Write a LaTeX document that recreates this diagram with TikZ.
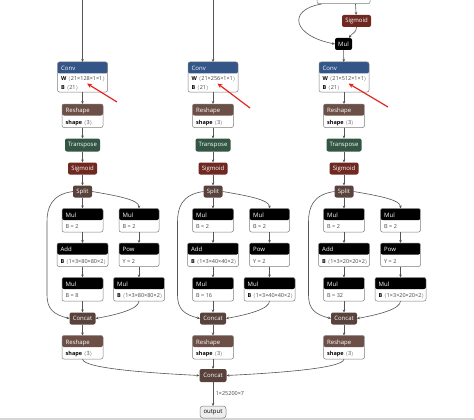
\documentclass[tikz,border=0pt]{standalone}
\usepackage{fontspec}
\setmainfont{Open Sans}
\usetikzlibrary{arrows.meta,positioning}

\definecolor{convblue}{RGB}{51,85,136}
\definecolor{shapebrown}{RGB}{108,79,71}
\definecolor{transgreen}{RGB}{51,85,68}
\definecolor{sigred}{RGB}{112,41,33}
\definecolor{tensorbrown}{RGB}{89,66,59}
\definecolor{edgegray}{RGB}{85,85,85}
\definecolor{boxgray}{RGB}{125,125,125}
\definecolor{valgray}{RGB}{70,70,70}
\definecolor{outgray}{RGB}{238,238,238}
\definecolor{bandgray}{RGB}{214,214,214}
\definecolor{annored}{RGB}{228,38,32}

\begin{document}
\begin{tikzpicture}[
    x=1pt, y=-1pt,
    font=\fontsize{6}{7}\selectfont,
    node distance=11pt,
    opbox/.style={
        draw=boxgray,
        fill=white,
        line width=0.5pt,
        rounded corners=2pt,
        inner sep=0pt,
        outer sep=0pt,
        minimum width=41pt,
        minimum height=23.5pt,
        path picture={\fill[#1] ([yshift=2pt]path picture bounding box.north west)
            rectangle ([yshift=-11.5pt]path picture bounding box.north east);}
    },
    flat/.style={
        fill=#1,
        text=white,
        rounded corners=2pt,
        inner sep=0pt,
        outer sep=0pt,
        minimum height=12pt
    },
    optitle/.style={
        anchor=base west,
        inner sep=0pt,
        text=white,
        xshift=3.5pt,
        yshift=-8.6pt
    },
    opattr/.style={
        anchor=base west,
        inner sep=0pt,
        text=valgray,
        font=\fontsize{5.5}{6}\selectfont,
        xshift=3.5pt,
        yshift=-20pt
    },
    edge/.style={
        draw=edgegray,
        line width=0.6pt,
        -{Stealth[length=3pt,width=2.6pt]}
    },
    redarrow/.style={
        draw=annored,
        line width=1.2pt,
        -{Stealth[length=5pt,width=4.5pt]}
    }
]

\path[use as bounding box, fill=white] (0,0) rectangle (474,420);
\fill[bandgray] (0,418) rectangle (474,420);

% the three detection heads
\foreach \cx/\i/\w/\s/\m/\rx/\ry in {82.5/1/128/80/8/34.5/102, 213/2/256/40/16/37/108, 344/3/512/20/32/44/107}{

    \node[opbox=convblue, minimum width=50pt, minimum height=30pt, anchor=north] (conv\i) at (\cx,62) {};
    \node[optitle] (conv\i-t) at (conv\i.north west) {Conv};
    \node[opattr, yshift=1pt] (conv\i-w) at (conv\i.north west) {\textbf{\color{black}W} $\langle$21×\w×1×1$\rangle$};
    \node[opattr, yshift=-7pt] (conv\i-b) at (conv\i.north west) {\textbf{\color{black}B} $\langle$21$\rangle$};

    \node[opbox=shapebrown, below=12pt of conv\i] (resh\i) {};
    \node[optitle] (resh\i-t) at (resh\i.north west) {Reshape};
    \node[opattr] (resh\i-a) at (resh\i.north west) {\textbf{\color{black}shape} $\langle$3$\rangle$};

    \node[flat=transgreen, minimum width=35pt, minimum height=13pt, below=of resh\i] (trans\i) {Transpose};
    \node[flat=sigred, minimum width=29pt, below=of trans\i] (sig\i) {Sigmoid};
    \node[flat=tensorbrown, minimum width=19pt, below=of sig\i] (split\i) {Split};

    \node[opbox=black, below=of split\i] (mula\i) {};
    \node[optitle] (mula\i-t) at (mula\i.north west) {Mul};
    \node[opattr] (mula\i-a) at (mula\i.north west) {B = 2};

    \node[opbox=black, minimum width=40pt, right=16pt of mula\i] (mulc\i) {};
    \node[optitle] (mulc\i-t) at (mulc\i.north west) {Mul};
    \node[opattr] (mulc\i-a) at (mulc\i.north west) {B = 2};

    \node[opbox=black, minimum width=51pt, below=of mula\i] (add\i) {};
    \node[optitle] (add\i-t) at (add\i.north west) {Add};
    \node[opattr] (add\i-a) at (add\i.north west) {\textbf{\color{black}B} $\langle$1×3×\s×\s×2$\rangle$};

    \node[opbox=black, minimum width=40pt, below=of mulc\i] (pow\i) {};
    \node[optitle] (pow\i-t) at (pow\i.north west) {Pow};
    \node[opattr] (pow\i-a) at (pow\i.north west) {Y = 2};

    \node[opbox=black, below=of add\i] (mulb\i) {};
    \node[optitle] (mulb\i-t) at (mulb\i.north west) {Mul};
    \node[opattr] (mulb\i-a) at (mulb\i.north west) {B = \m};

    \node[opbox=black, minimum width=51pt, below=of pow\i] (muld\i) {};
    \node[optitle] (muld\i-t) at (muld\i.north west) {Mul};
    \node[opattr] (muld\i-a) at (muld\i.north west) {\textbf{\color{black}B} $\langle$1×3×\s×\s×2$\rangle$};

    \node[flat=tensorbrown, minimum width=26pt, below=11.5pt of mulb\i] (cat\i) {Concat};

    \node[opbox=shapebrown, below=of cat\i] (reshb\i) {};
    \node[optitle] (reshb\i-t) at (reshb\i.north west) {Reshape};
    \node[opattr] (reshb\i-a) at (reshb\i.north west) {\textbf{\color{black}shape} $\langle$3$\rangle$};

    \draw[edge] (conv\i) -- (resh\i);
    \draw[edge] (resh\i) -- (trans\i);
    \draw[edge] (trans\i) -- (sig\i);
    \draw[edge] (sig\i) -- (split\i);
    \draw[edge] (split\i) -- (mula\i);
    \draw[edge] (mula\i) -- (add\i);
    \draw[edge] (add\i) -- (mulb\i);
    \draw[edge] (mulb\i) -- (cat\i);
    \draw[edge] (mulc\i) -- (pow\i);
    \draw[edge] (pow\i) -- (muld\i);
    \draw[edge] (cat\i) -- (reshb\i);
    \draw[edge] (split\i.west) .. controls +(-22,3) and +(0,-14) .. (\cx-35.5,222)
        -- (\cx-35.5,295) .. controls +(0,14) and +(-16,-4) .. (cat\i.west);
    \draw[edge] (split\i.east) .. controls +(30,5) and +(0,-8) .. (mulc\i.north);
    \draw[edge] (muld\i.south) .. controls +(0,8) and +(22,-4) .. (cat\i.east);

    % red marks on the weights
    \coordinate (tip\i) at (\cx+4.5,83.5);
    \coordinate (tail\i) at (\cx+\rx,\ry);
    \draw[redarrow] (tail\i) -- (tip\i);
}

% inputs of the heads
\coordinate (in1) at (82.5,-1);
\coordinate (in2) at (213,-1);
\draw[edge] (in1) -- (conv1);
\draw[edge] (in2) -- (conv2);

\node[draw=boxgray, fill=white, line width=0.5pt, rounded corners=2pt, minimum width=53pt, minimum height=20pt, anchor=south] (prev) at (343.5,4) {};
\node[flat=sigred, minimum width=29pt, anchor=north] (sigt) at (356.5,15) {Sigmoid};
\node[flat=black, minimum width=17pt, anchor=north] (mult) at (343.5,38) {Mul};
\draw[edge] ([xshift=12pt]prev.south) -- (sigt);
\draw[edge] ([xshift=-22pt]prev.south) .. controls +(-35,6) and +(-42,-8) .. (mult.west);
\draw[edge] (sigt.south) .. controls +(0,6) and +(3,-5) .. ([xshift=-3pt]mult.north east);
\draw[edge] (mult) -- (conv3);

% output
\node[flat=tensorbrown, minimum width=27pt, minimum height=13pt, below=10pt of reshb2] (fcat) {Concat};
\node[draw=boxgray, fill=outgray, line width=0.5pt, rounded corners=3pt, inner sep=0pt, outer sep=0pt, minimum width=26pt, minimum height=12pt, below=24pt of fcat] (output) {output};
\draw[edge] (reshb1.south) .. controls +(0,10) and +(-40,-2) .. (fcat.west);
\draw[edge] (reshb2) -- (fcat);
\draw[edge] (reshb3.south) .. controls +(0,10) and +(40,-2) .. (fcat.east);
\draw[edge] (fcat) -- node[right, text=valgray, font=\fontsize{5.5}{6}\selectfont, inner sep=2.5pt] (oshape) {1×25200×7} (output);

\end{tikzpicture}
\end{document}
